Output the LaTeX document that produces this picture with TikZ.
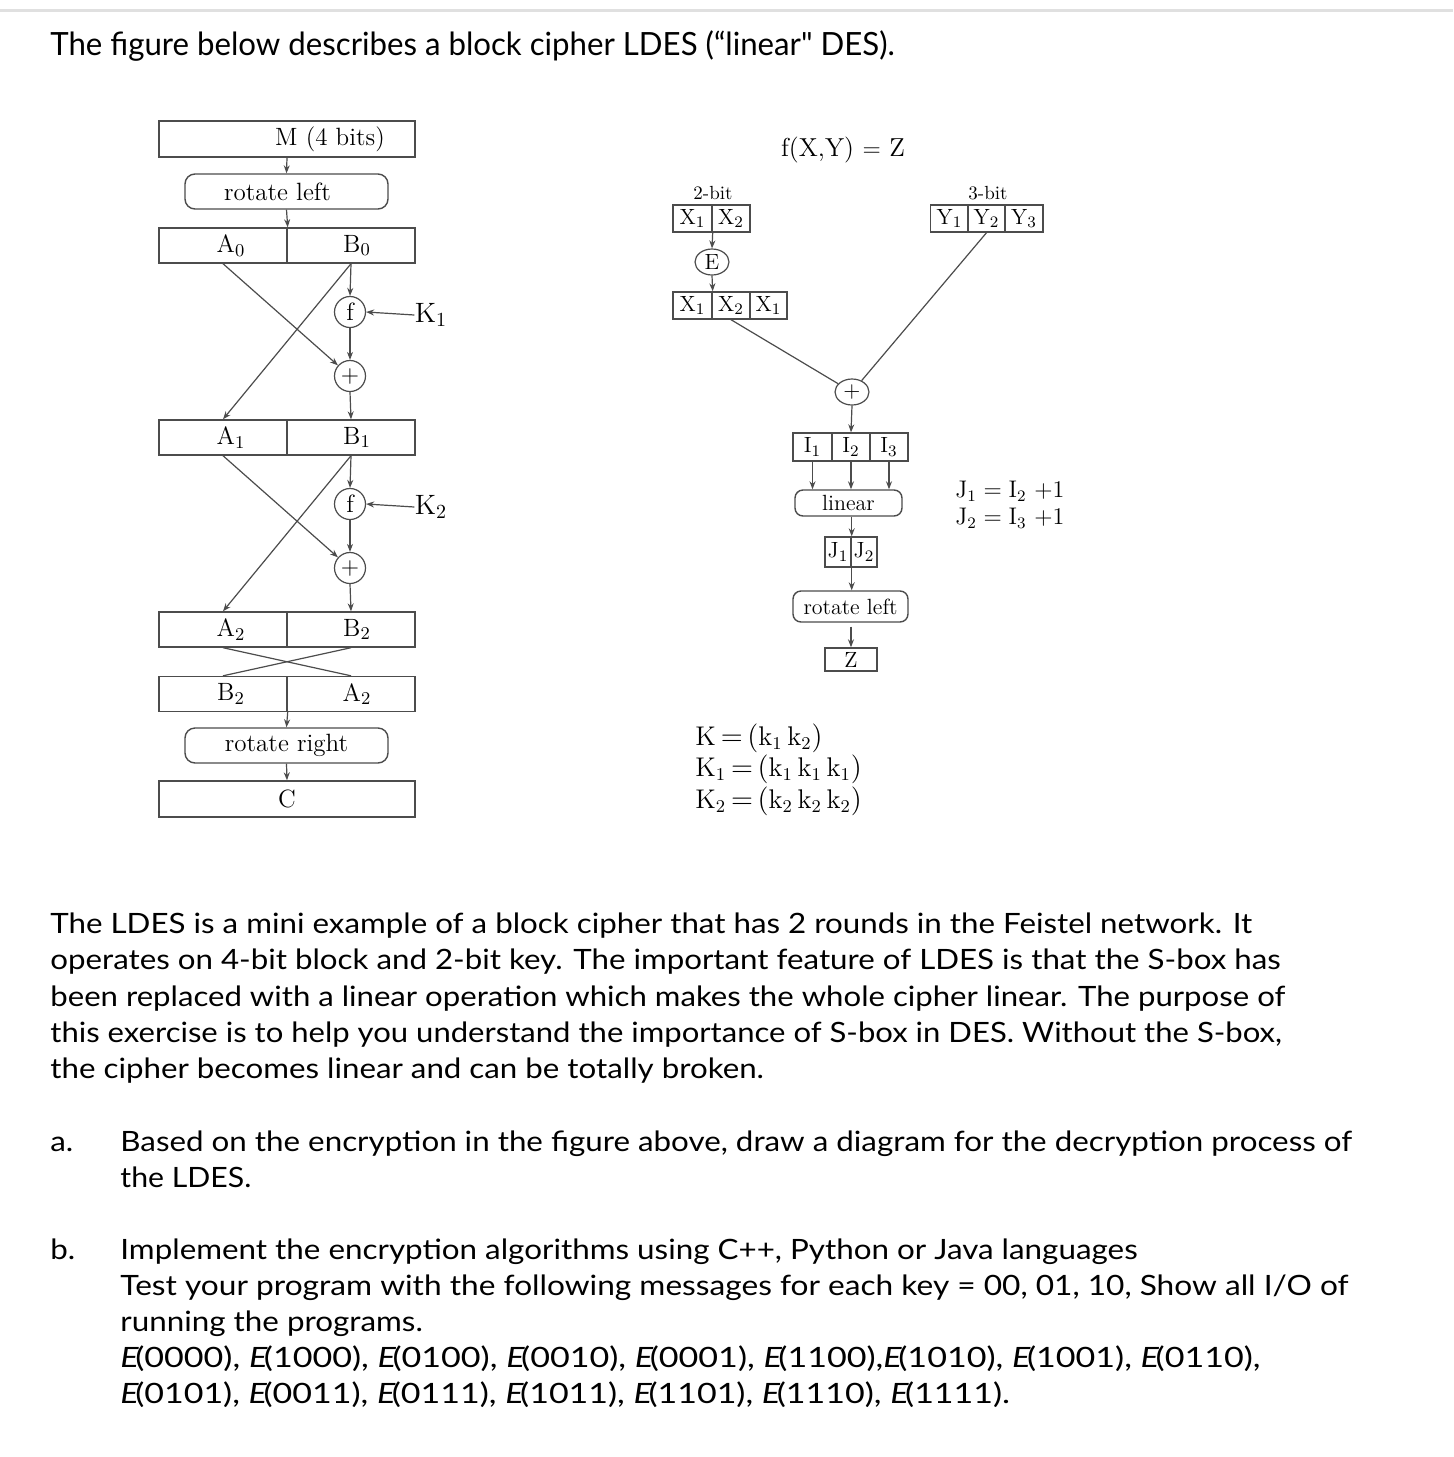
\documentclass[tikz,border=0pt]{standalone}
\usepackage{fontspec}
\usepackage{graphicx}
\usetikzlibrary{arrows.meta,shapes.geometric,calc}
\newfontfamily\bodyfont{Lato}
\newcommand\dsz{\fontsize{12.5}{14}\selectfont}
\newcommand\rsz{\fontsize{11}{13}\selectfont}
\newcommand\Eit[1]{\textit{E}\kern-1.5pt(#1)}
\newcommand\wide[2][1.12]{\scalebox{#1}[1]{#2}}
\begin{document}
\begin{tikzpicture}[x=0.5pt,y=-0.5pt,
  ln/.style={draw=black!70,line width=0.6pt},
  arr/.style={ln,-{Stealth[length=4pt,width=3pt]}},
  cell/.style={draw=black!70,line width=0.7pt,inner sep=0pt,minimum height=17.5pt,font=\dsz},
  rcell/.style={cell,minimum height=13.5pt,font=\rsz},
  rbox/.style={cell,rounded corners=5pt},
  circ/.style={draw=black!70,line width=0.6pt,circle,inner sep=0pt,minimum size=15.5pt,font=\dsz},
  ell/.style={draw=black!70,line width=0.6pt,ellipse,inner sep=0pt,minimum width=17pt,minimum height=13pt,font=\rsz},
  lab/.style={inner sep=0pt},
  body/.style={anchor=base west,inner sep=0pt,font=\bodyfont\fontsize{14}{18}\selectfont}]
\useasboundingbox (0,0) rectangle (1453,1457);
\fill[white] (0,0) rectangle (1453,1457);
\draw[black!12,line width=1.5pt] (0,10) -- (1453,10);

% ---------------- left diagram ----------------
\node[cell,minimum width=128pt,minimum height=18pt] (M) at (287,139) {\hspace*{43pt}M (4 bits)};
\node[rbox,minimum width=101.5pt] (rl) at (286.5,191.5) {rotate left\hspace*{9pt}};
\node[cell,minimum width=64pt] (A0) at (223,245.5) {\hspace*{8pt}$\mathrm{A}_0$};
\node[cell,minimum width=64pt] (B0) at (351,245.5) {\hspace*{6pt}$\mathrm{B}_0$};
\node[circ] (f1) at (350,312) {f};
\node[circ] (p1) at (350,376) {$+$};
\node[lab,font=\fontsize{14}{16}\selectfont] (K1) at (431,315) {$\mathrm{K}_1$};
\node[cell,minimum width=64pt] (A1) at (223,437.5) {\hspace*{8pt}$\mathrm{A}_1$};
\node[cell,minimum width=64pt] (B1) at (351,437.5) {\hspace*{6pt}$\mathrm{B}_1$};
\node[circ] (f2) at (350,504) {f};
\node[circ] (p2) at (350,568) {$+$};
\node[lab,font=\fontsize{14}{16}\selectfont] (K2) at (431,507) {$\mathrm{K}_2$};
\node[cell,minimum width=64pt] (A2) at (223,629.5) {\hspace*{8pt}$\mathrm{A}_2$};
\node[cell,minimum width=64pt] (B2) at (351,629.5) {\hspace*{6pt}$\mathrm{B}_2$};
\node[cell,minimum width=64pt] (B2s) at (223,694) {\hspace*{8pt}$\mathrm{B}_2$};
\node[cell,minimum width=64pt] (A2s) at (351,694) {\hspace*{6pt}$\mathrm{A}_2$};
\node[rbox,minimum width=101.5pt] (rr) at (286.5,745.5) {rotate right};
\node[cell,minimum width=128pt,minimum height=18pt] (C) at (287,799) {C};

\draw[arr] (M.south) -- (rl.north);
\draw[arr] (rl.south) -- (A0.south east|-A0.north);
\draw[arr] (B0.south) -- (f1.north);
\draw[arr] (K1.west) -- (f1.east);
\draw[arr] (f1.south) -- (p1.north);
\draw[arr] (p1.south) -- (B1.north);
\draw[arr] (A0.south) -- (p1);
\draw[arr] (B0.south) -- (A1.north);
\draw[arr] (B1.south) -- (f2.north);
\draw[arr] (K2.west) -- (f2.east);
\draw[arr] (f2.south) -- (p2.north);
\draw[arr] (p2.south) -- (B2.north);
\draw[arr] (A1.south) -- (p2);
\draw[arr] (B1.south) -- (A2.north);
\draw[ln] (A2.south) -- (A2s.north);
\draw[ln] (B2.south) -- (B2s.north);
\draw[arr] (B2s.south east) -- (rr.north);
\draw[arr] (rr.south) -- (C.north);

% ---------------- right diagram ----------------
\node[lab,font=\fontsize{13}{15}\selectfont] (title) at (843,150) {f(X,Y) $=$ Z};
\node[lab,font=\fontsize{9.5}{11}\selectfont] (tb2) at (713,193) {2-bit};
\node[lab,font=\fontsize{9.5}{11}\selectfont] (tb3) at (988,193) {3-bit};
\node[rcell,minimum width=19.5pt] (X1) at (692.5,218.5) {$\mathrm{X}_1$};
\node[rcell,minimum width=19pt] (X2) at (731,218.5) {$\mathrm{X}_2$};
\node[ell] (E) at (712,262) {E};
\node[rcell,minimum width=19.5pt] (X1b) at (692.5,305.5) {$\mathrm{X}_1$};
\node[rcell,minimum width=19pt] (X2b) at (731,305.5) {$\mathrm{X}_2$};
\node[rcell,minimum width=18.5pt] (X1c) at (768.5,305.5) {$\mathrm{X}_1$};
\node[rcell,minimum width=19pt] (Y1) at (949.5,218.5) {$\mathrm{Y}_1$};
\node[rcell,minimum width=18.5pt] (Y2) at (986.5,218.5) {$\mathrm{Y}_2$};
\node[rcell,minimum width=19pt] (Y3) at (1024,218.5) {$\mathrm{Y}_3$};
\node[ell] (px) at (852,392) {$+$};
\node[rcell,minimum width=19.5pt,minimum height=14pt] (I1) at (812.5,447) {$\mathrm{I}_1$};
\node[rcell,minimum width=19pt,minimum height=14pt] (I2) at (851,447) {$\mathrm{I}_2$};
\node[rcell,minimum width=19pt,minimum height=14pt] (I3) at (889,447) {$\mathrm{I}_3$};
\node[rcell,rounded corners=4pt,minimum width=53.5pt,minimum height=13pt] (lin) at (848.5,503) {linear};
\node[rcell,minimum width=13pt,minimum height=15pt] (J1) at (838,552) {$\mathrm{J}_1$};
\node[rcell,minimum width=13pt,minimum height=15pt] (J2) at (864,552) {$\mathrm{J}_2$};
\node[rcell,rounded corners=4pt,minimum width=57.5pt,minimum height=15.5pt] (rl2) at (850.5,606.5) {rotate left};
\node[rcell,minimum width=26pt,minimum height=11.5pt] (Z) at (851,659.5) {Z};

\draw[arr] (X1.south east) -- (E.north);
\draw[arr] (E.south) -- (X1b.north east);
\draw[ln] (X2b.south) -- (px);
\draw[ln] (Y2.south) -- (px);
\draw[arr] (px.south) -- (I2.north);
\draw[arr] (I1.south) -- (I1.south|-lin.north);
\draw[arr] (I2.south) -- (I2.south|-lin.north);
\draw[arr] (I3.south) -- (I3.south|-lin.north);
\draw[arr] (J1.north east|-lin.south) -- (J1.north east);
\draw[arr] (J1.north east) -- (J1.north east|-rl2.north);
\draw[arr,shorten <=2pt] (rl2.south-|Z.north) -- (Z.north);

\node[lab,anchor=west,font=\fontsize{12}{14}\selectfont] (eqJ1) at (955,491) {$\mathrm{J}_1 = \mathrm{I}_2\ {+}1$};
\node[lab,anchor=west,font=\fontsize{12}{14}\selectfont] (eqJ2) at (955,518) {$\mathrm{J}_2 = \mathrm{I}_3\ {+}1$};
\node[lab,anchor=west,font=\fontsize{13.5}{16}\selectfont] (eqK) at (695,738) {$\mathrm{K}{\,=\,}(\mathrm{k}_1\,\mathrm{k}_2)$};
\node[lab,anchor=west,font=\fontsize{13.5}{16}\selectfont] (eqK1) at (695,769) {$\mathrm{K}_1{\,=\,}(\mathrm{k}_1\,\mathrm{k}_1\,\mathrm{k}_1)$};
\node[lab,anchor=west,font=\fontsize{13.5}{16}\selectfont] (eqK2) at (695,801) {$\mathrm{K}_2{\,=\,}(\mathrm{k}_2\,\mathrm{k}_2\,\mathrm{k}_2)$};

% ---------------- text ----------------
\node[body,font=\bodyfont\fontsize{16}{18}\selectfont] (hd) at (50,55) {\wide[0.975]{The figure below describes a block cipher LDES (“linear" DES).}};
\node[body] (t1) at (50,933) {\wide[1.118]{The LDES is a mini example of a block cipher that has 2 rounds in the Feistel network. It}};
\node[body] (t2) at (50,969) {\wide[1.117]{operates on 4-bit block and 2-bit key. The important feature of LDES is that the S-box has}};
\node[body] (t3) at (50,1006) {\wide[1.112]{been replaced with a linear operation which makes the whole cipher linear. The purpose of}};
\node[body] (t4) at (50,1042) {\wide[1.109]{this exercise is to help you understand the importance of S-box in DES. Without the S-box,}};
\node[body] (t5) at (50,1078) {\wide[1.117]{the cipher becomes linear and can be totally broken.}};
\node[body] (ia) at (50,1151) {\wide{a.}};
\node[body] (a1) at (120,1151) {\wide[1.119]{Based on the encryption in the figure above, draw a diagram for the decryption process of}};
\node[body] (a2) at (120,1187) {\wide[1.08]{the LDES.}};
\node[body] (ib) at (50,1259) {\wide{b.}};
\node[body] (b1) at (120,1259) {\wide[1.12]{Implement the encryption algorithms using C++, Python or Java languages}};
\node[body] (b2) at (120,1295) {\wide[1.13]{Test your program with the following messages for each key = 00, 01, 10, Show all I/O of}};
\node[body] (b3) at (120,1331) {\wide[1.12]{running the programs.}};
\node[body] (b4) at (120,1367) {\wide[1.217]{\Eit{0000}, \Eit{1000}, \Eit{0100}, \Eit{0010}, \Eit{0001}, \Eit{1100},\Eit{1010}, \Eit{1001}, \Eit{0110},}};
\node[body] (b5) at (120,1403) {\wide[1.214]{\Eit{0101}, \Eit{0011}, \Eit{0111}, \Eit{1011}, \Eit{1101}, \Eit{1110}, \Eit{1111}.}};
\end{tikzpicture}
\end{document}
